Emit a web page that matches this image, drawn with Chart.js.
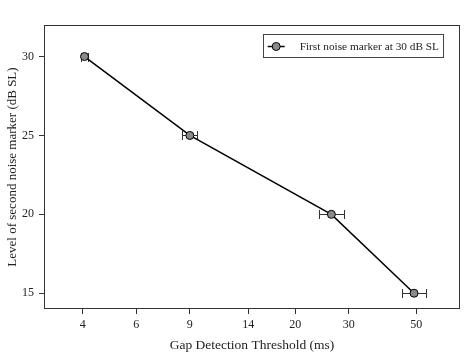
<!DOCTYPE html>
<html>
<head>
<meta charset="utf-8">
<script src="https://cdn.jsdelivr.net/npm/chart.js@4/dist/chart.umd.min.js"></script>
<style>
html,body{margin:0;padding:0;background:#fff;}
#wrap{width:474px;height:355px;position:relative;}
</style>
</head>
<body>
<div id="wrap"><canvas id="c" width="474" height="355"></canvas></div>
<script>
// ---- data ----
const seriesLabel = "First noise marker at 30 dB SL";
const gapThreshold = [4.05, 9.0, 26.3, 49.2];      // ms (x)
const markerLevel = [30, 25, 20, 15];               // dB SL (y)
const gapLow = [3.95, 8.45, 23.9, 44.9];            // error bar low (ms)
const gapHigh = [4.16, 9.53, 28.9, 53.9];           // error bar high (ms)
const xTickValues = [4, 6, 9, 14, 20, 30, 50];
const yTickValues = [15, 20, 25, 30];
const xTitle = "Gap Detection Threshold (ms)";
const yTitle = "Level of second noise marker (dB SL)";

const FONT = "'Liberation Serif', 'Times New Roman', serif";
const INK = '#222';

const boxPlugin = {
  id: 'frame',
  beforeDatasetsDraw(chart) {
    const {ctx, scales: {x, y}} = chart;
    ctx.save();
    ctx.strokeStyle = '#333';
    ctx.lineWidth = 1;
    for (let i = 0; i < gapThreshold.length; i++) {
      const py = Math.round(y.getPixelForValue(markerLevel[i])) + 0.5;
      const x1 = Math.round(x.getPixelForValue(gapLow[i])) + 0.5;
      const x2 = Math.round(x.getPixelForValue(gapHigh[i])) + 0.5;
      ctx.beginPath();
      ctx.moveTo(x1, py); ctx.lineTo(x2, py);
      ctx.moveTo(x1, py - 4.5); ctx.lineTo(x1, py + 4.5);
      ctx.moveTo(x2, py - 4.5); ctx.lineTo(x2, py + 4.5);
      ctx.stroke();
    }
    ctx.restore();
  },
  afterDraw(chart) {
    const {ctx, chartArea: a} = chart;
    ctx.save();
    ctx.strokeStyle = '#333';
    ctx.lineWidth = 1;
    ctx.strokeRect(Math.round(a.left) + 0.5, Math.round(a.top) + 0.5,
                   Math.round(a.right - a.left) - 1, Math.round(a.bottom - a.top) - 1);
    // legend
    const right = a.right - 17, top = a.top + 9, h = 23;
    ctx.font = '11.3px ' + FONT;
    const tw = ctx.measureText(seriesLabel).width;
    const left = right - tw - 41;
    ctx.strokeStyle = '#444';
    ctx.strokeRect(Math.round(left) + 0.5, Math.round(top) + 0.5, Math.round(right - left), h);
    const cy = Math.round(top + h / 2) + 0.5;
    ctx.strokeStyle = '#000';
    ctx.lineWidth = 1.5;
    ctx.beginPath(); ctx.moveTo(left + 5, cy); ctx.lineTo(left + 22, cy); ctx.stroke();
    ctx.lineWidth = 1;
    ctx.fillStyle = '#8a8a8a';
    ctx.beginPath(); ctx.arc(left + 13.5, cy, 4, 0, Math.PI * 2); ctx.fill(); ctx.stroke();
    ctx.fillStyle = INK;
    ctx.textBaseline = 'middle';
    ctx.textAlign = 'left';
    ctx.fillText(seriesLabel, left + 37, cy + 0.5);
    ctx.restore();
  }
};

new Chart(document.getElementById('c'), {
  type: 'line',
  data: {
    datasets: [{
      label: seriesLabel,
      data: gapThreshold.map((v, i) => ({x: v, y: markerLevel[i]})),
      borderColor: '#000',
      borderWidth: 1.5,
      tension: 0,
      pointRadius: 4,
      pointBackgroundColor: '#8a8a8a',
      pointBorderColor: '#000',
      pointBorderWidth: 1
    }]
  },
  options: {
    responsive: false,
    animation: false,
    devicePixelRatio: 1,
    layout: {padding: {top: 25, right: 14, left: 0, bottom: 0}},
    plugins: {legend: {display: false}, tooltip: {enabled: false}},
    scales: {
      x: {
        type: 'logarithmic',
        min: 2.98,
        max: 69.7,
        afterBuildTicks: s => { s.ticks = xTickValues.map(v => ({value: v})); },
        afterFit: s => { s.height = 46; },
        ticks: {
          color: INK, font: {family: FONT, size: 12}, padding: 4,
          autoSkip: false, maxRotation: 0,
          callback: v => String(v)
        },
        grid: {display: true, drawOnChartArea: false, drawTicks: true, tickLength: 5, color: '#333'},
        border: {display: false},
        title: {display: true, text: xTitle, color: INK, font: {family: FONT, size: 13.5}, padding: {top: 0, bottom: 1}}
      },
      y: {
        type: 'linear',
        min: 14,
        max: 32,
        afterBuildTicks: s => { s.ticks = yTickValues.map(v => ({value: v})); },
        afterFit: s => { s.width = 44; },
        ticks: {color: INK, font: {family: FONT, size: 12}, padding: 5},
        grid: {display: true, drawOnChartArea: false, drawTicks: true, tickLength: 5, color: '#333'},
        border: {display: false},
        title: {display: true, text: yTitle, color: INK, font: {family: FONT, size: 13}, padding: {top: 5, bottom: 4}}
      }
    }
  },
  plugins: [boxPlugin]
});
</script>
</body>
</html>
